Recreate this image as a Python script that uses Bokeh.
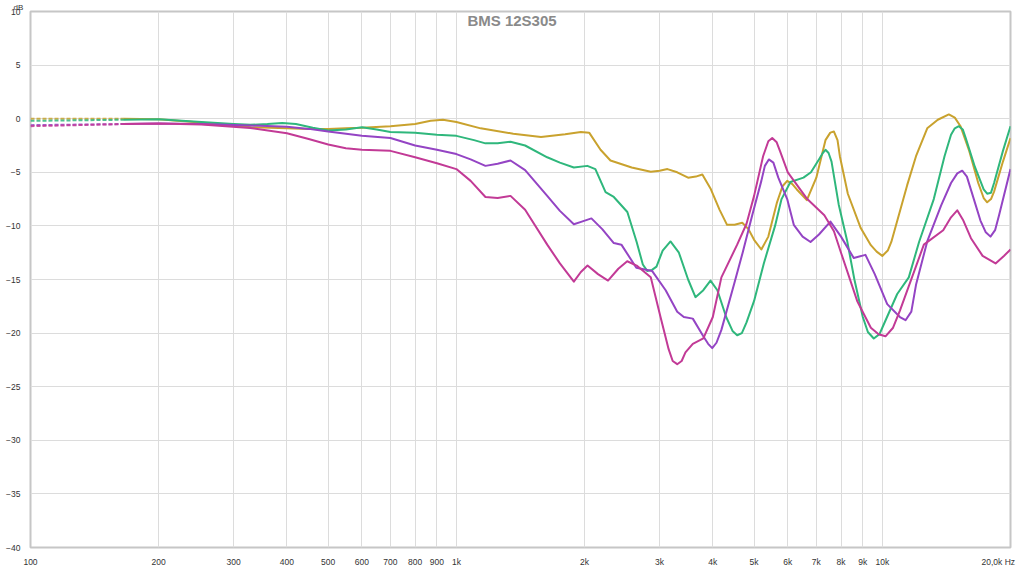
from bokeh.plotting import figure
from bokeh.models import FixedTicker, Label
from bokeh.embed import file_html
from bokeh.resources import INLINE

# ---------------- data ----------------
X_TICKS = [100, 200, 300, 400, 500, 600, 700, 800, 900, 1000,
           2000, 3000, 4000, 5000, 6000, 7000, 8000, 9000, 10000, 20000]
X_LABELS = ["100", "200", "300", "400", "500", "600", "700", "800", "900", "1k",
            "2k", "3k", "4k", "5k", "6k", "7k", "8k", "9k", "10k", "20,0k Hz"]
Y_TICKS = [10, 5, 0, -5, -10, -15, -20, -25, -30, -35, -40]
Y_UNIT = "dB"
TITLE = "BMS 12S305"
DASH_END = 165  # below this frequency the curves are drawn dashed

gold_f = [100, 165, 200, 250, 300, 330, 400, 450, 500, 550, 600, 700, 800, 870, 930,
          1000, 1140, 1360, 1580, 1800, 1960, 2050, 2180, 2300, 2580, 2860, 3000, 3130,
          3300, 3500, 3650, 3780, 3950, 4150, 4320, 4500, 4690, 4850, 5000, 5200, 5400,
          5660, 5830, 5980, 6150, 6300, 6650, 7000, 7355, 7550, 7700, 7850, 7950, 8300,
          8900, 9400, 9700, 10000, 10300, 10500, 11440, 12000, 12750, 13500, 14330, 14800,
          15265, 16000, 16800, 17300, 17630, 18000, 18300, 19200, 20000]
gold_db = [0.0, 0.0, -0.05, -0.35, -0.65, -0.8, -0.9, -0.95, -0.95, -0.9, -0.85, -0.7, -0.5, -0.2, -0.1,
           -0.3, -0.9, -1.4, -1.7, -1.45, -1.25, -1.3, -2.9, -3.9, -4.55, -4.95, -4.85, -4.7,
           -5.0, -5.5, -5.4, -5.2, -6.5, -8.5, -9.9, -9.9, -9.7, -10.3, -11.3, -12.2, -11.0,
           -7.8, -6.3, -5.8, -6.1, -6.6, -7.6, -5.5, -2.0, -1.3, -1.2, -2.0, -3.5, -7.0,
           -10.2, -11.8, -12.4, -12.8, -12.3, -11.5, -6.2, -3.5, -0.9, -0.1, 0.4, 0.1,
           -0.7, -3.0, -6.0, -7.4, -7.8, -7.5, -6.8, -4.0, -1.8]

green_f = [100, 165, 200, 252, 300, 328, 360, 390, 420, 460, 500, 550, 600, 650, 700, 800,
           900, 1000, 1100, 1170, 1250, 1340, 1450, 1634, 1750, 1887, 2030, 2120, 2240, 2342,
           2520, 2650, 2740, 2805, 2880, 2950, 3050, 3182, 3330, 3500, 3642, 3800, 3950, 4100,
           4300, 4450, 4563, 4680, 4800, 5000, 5270, 5600, 5800, 6086, 6530, 6800, 7100, 7250,
           7355, 7480, 7600, 7900, 8271, 8600, 9000, 9250, 9550, 9850, 10000, 10840, 11540,
           12200, 13210, 14000, 14500, 14800, 15125, 15450, 15700, 16500, 17300, 17630, 18000,
           18300, 19200, 20000]
green_db = [-0.2, -0.1, -0.05, -0.3, -0.5, -0.57, -0.5, -0.4, -0.5, -0.85, -1.1, -1.0, -0.8, -1.0, -1.25, -1.3,
            -1.5, -1.6, -2.0, -2.3, -2.3, -2.15, -2.5, -3.6, -4.1, -4.55, -4.4, -4.7, -6.85, -7.3,
            -8.7, -11.5, -13.6, -14.2, -14.1, -13.8, -12.3, -11.45, -12.5, -15.0, -16.65, -16.0, -15.1, -16.0,
            -18.5, -19.8, -20.2, -20.0, -19.0, -17.0, -13.5, -10.0, -7.5, -5.9, -5.5, -5.0, -3.8, -3.2,
            -2.9, -3.2, -4.0, -8.0, -11.4, -15.0, -18.5, -19.9, -20.5, -20.1, -19.5, -16.35, -14.8,
            -11.5, -7.5, -3.5, -1.5, -0.9, -0.7, -1.0, -1.8, -4.5, -6.6, -7.0, -6.9,
            -6.0, -3.0, -0.7]

purple_f = [100, 165, 200, 252, 328, 400, 450, 500, 600, 700, 800, 900, 1000, 1080, 1170,
            1250, 1340, 1450, 1634, 1750, 1887, 1970, 2075, 2200, 2342, 2440, 2645, 2880,
            3100, 3300, 3420, 3590, 3800, 3900, 3987, 4080, 4190, 4490, 4700, 4950, 5200, 5300,
            5415, 5550, 5700, 5980, 6197, 6500, 6785, 7100, 7555, 8000, 8570, 9130, 9600, 10270,
            11000, 11340, 11700, 12000, 12750, 13740, 14500, 15000, 15405, 15800, 16200, 17000,
            17500, 17950, 18400, 18800, 20000]
purple_db = [-0.6, -0.5, -0.45, -0.5, -0.63, -0.75, -0.95, -1.2, -1.6, -1.8, -2.5, -2.9, -3.3, -3.8, -4.4,
             -4.2, -3.9, -4.8, -7.2, -8.6, -9.85, -9.6, -9.3, -10.3, -11.6, -11.75, -13.9, -14.2,
             -16.0, -18.0, -18.5, -18.65, -20.3, -21.0, -21.4, -20.9, -19.7, -15.4, -12.5, -9.0, -5.8, -4.4,
             -3.8, -4.1, -5.5, -7.5, -9.9, -11.0, -11.5, -10.8, -9.6, -11.0, -13.0, -12.7, -14.5, -17.3,
             -18.5, -18.8, -18.0, -15.5, -11.45, -8.1, -6.0, -5.1, -4.85, -5.4, -6.8, -9.5,
             -10.6, -11.0, -10.4, -9.0, -4.7]

magenta_f = [100, 165, 200, 252, 328, 400, 450, 500, 550, 600, 700, 800, 900, 1000, 1080,
             1170, 1250, 1340, 1450, 1634, 1750, 1887, 1960, 2032, 2150, 2270, 2400, 2518, 2650,
             2860, 3015, 3150, 3220, 3300, 3380, 3450, 3590, 3800, 4000, 4190, 4563, 4800, 5000,
             5250, 5400, 5515, 5650, 5750, 6000, 6665, 7310, 7700, 8000, 8730, 9400, 9800, 10175,
             10600, 11000, 12520, 13900, 14500, 14995, 15500, 16150, 17200, 18450, 19300, 20000]
magenta_db = [-0.7, -0.5, -0.45, -0.55, -0.87, -1.35, -1.9, -2.4, -2.75, -2.9, -3.0, -3.6, -4.15, -4.7, -5.8,
              -7.3, -7.4, -7.2, -8.5, -11.75, -13.5, -15.2, -14.3, -13.7, -14.5, -15.1, -14.0, -13.3, -13.7,
              -14.8, -18.5, -21.5, -22.6, -22.9, -22.6, -21.8, -21.0, -20.5, -18.5, -14.8, -11.75, -9.8, -7.2,
              -3.5, -2.1, -1.8, -2.2, -3.0, -5.0, -7.5, -9.0, -10.5, -12.5, -17.0, -19.5, -20.1, -20.3,
              -19.5, -17.9, -11.75, -10.4, -9.2, -8.55, -9.5, -11.15, -12.8, -13.5, -12.8, -12.2]

SERIES = [
    (gold_f, gold_db, "#c9a22e"),
    (green_f, green_db, "#2fb77c"),
    (purple_f, purple_db, "#9444c4"),
    (magenta_f, magenta_db, "#c23a96"),
]

# ---------------- figure ----------------
p = figure(width=1024, height=569, x_axis_type="log",
           x_range=(X_TICKS[0], X_TICKS[-1]), y_range=(Y_TICKS[-1], Y_TICKS[0]),
           output_backend="svg", toolbar_location=None,
           min_border_left=30, min_border_right=14, min_border_top=10, min_border_bottom=15,
           background_fill_color="white", border_fill_color="white")

# unit label "dB" sits in the small strip above the frame, over the y tick labels
p.title.text = Y_UNIT
p.title.align = "left"
p.title.offset = -17
p.title.standoff = 0
p.title.text_font = "Liberation Sans"
p.title.text_font_style = "normal"
p.title.text_font_size = "8px"
p.title.text_color = "#333333"

p.xaxis.ticker = FixedTicker(ticks=X_TICKS)
p.xgrid.ticker = FixedTicker(ticks=X_TICKS)
# non-breaking spaces pull the centred last label back inside the canvas
p.xaxis.major_label_overrides = {t: (l + "\u00a0" * 4 if t == X_TICKS[-1] else l)
                                 for t, l in zip(X_TICKS, X_LABELS)}
p.yaxis.ticker = FixedTicker(ticks=Y_TICKS)
p.ygrid.ticker = FixedTicker(ticks=Y_TICKS)

for ax in (p.xaxis, p.yaxis):
    ax.axis_line_color = None
    ax.major_tick_line_color = None
    ax.minor_tick_line_color = None
    ax.major_label_text_font = "Liberation Sans"
    ax.major_label_text_font_size = "8.5px"
    ax.major_label_text_color = "#333333"
p.xaxis.major_label_standoff = 3
p.yaxis.major_label_standoff = 4

for g in (p.xgrid, p.ygrid):
    g.grid_line_color = "#dcdcdc"
    g.grid_line_width = 1
p.outline_line_color = "#c6c6c6"
p.outline_line_width = 2

for f, db, color in SERIES:
    dash_f = [x for x in f if x <= DASH_END]
    dash_db = db[:len(dash_f)]
    solid_f = f[len(dash_f) - 1:]
    solid_db = db[len(dash_f) - 1:]
    p.line(dash_f, dash_db, line_color=color, line_width=2, line_dash="4 2", line_alpha=0.85)
    p.line(solid_f, solid_db, line_color=color, line_width=2, line_join="round")

p.add_layout(Label(x=1351, y=Y_TICKS[0], text=TITLE, text_align="center", text_baseline="top",
                   text_font="Liberation Sans", text_font_style="bold", text_font_size="15px",
                   text_color="#8a8a8a"))

open("out.html", "w").write(file_html(p, INLINE))
